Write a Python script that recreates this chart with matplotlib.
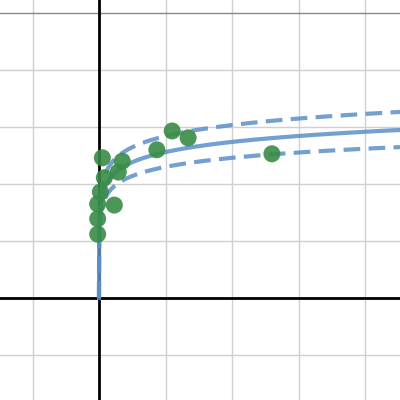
import numpy as np
import matplotlib
matplotlib.use("Agg")
import matplotlib.pyplot as plt

# data in graph units (x grid = 1, y grid = 1)
pts_x = [0.05, 0.35, 0.08, 0.29, 0.02, -0.02, 0.23, -0.02, -0.02, 1.10, 1.34, 0.87, 2.60]
pts_y = [2.46, 2.40, 2.11, 2.21, 1.86, 1.65, 1.63, 1.39, 1.12, 2.93, 2.81, 2.60, 2.53]

fit_a, fit_b = 2.56, 0.257
upper_a, upper_b = 2.84, 0.281
lower_a, lower_b = 2.30, 0.230

fig = plt.figure(figsize=(4, 4), dpi=100)
ax = fig.add_axes([0, 0, 1, 1])
xmin, xmax = -99 / 66.5, 301 / 66.5
ymin, ymax = -102 / 57, 298 / 57
ax.set_xlim(xmin, xmax)
ax.set_ylim(ymin, ymax)

for gx in range(-1, 5):
    ax.axvline(gx, color="#d0d0d0", lw=1, zorder=0)
for gy in range(-1, 6):
    ax.axhline(gy, color="#888888" if gy == 5 else "#d0d0d0", lw=1, zorder=0)
ax.axhline(0, color="black", lw=2, zorder=1)
ax.axvline(0, color="black", lw=2, zorder=1)

x = np.logspace(-6, np.log10(xmax), 800)
for a, b, ls in [(fit_a, fit_b, "-"), (upper_a, upper_b, (0, (4, 2))), (lower_a, lower_b, (0, (4, 2)))]:
    y = a + b * np.log(x)
    m = y >= 0
    ax.plot(x[m], y[m], color="#5b8fc7", lw=3, ls=ls, alpha=0.85, zorder=2)

ax.scatter(pts_x, pts_y, s=150, color="#388c46", alpha=0.9, zorder=3, edgecolors="none")
ax.axis("off")
fig.savefig("out.png", dpi=100)
